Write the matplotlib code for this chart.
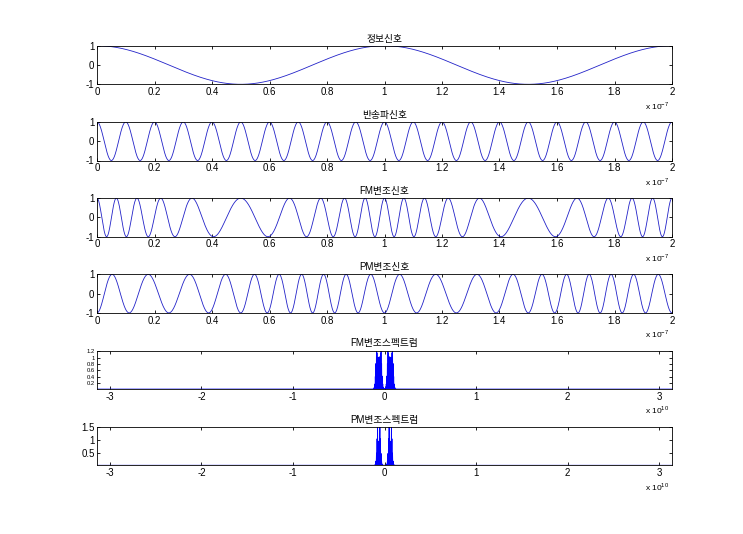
import numpy as np
import matplotlib
matplotlib.use('Agg')
import matplotlib.pyplot as plt

plt.rcParams['font.family'] = ['Liberation Sans', 'Noto Sans CJK KR', 'DejaVu Sans']
plt.rcParams['mathtext.fontset'] = 'custom'
plt.rcParams['mathtext.rm'] = 'Liberation Sans'

# ---- signal parameters ----
Ts = 1e-10          # sample interval (s)
t_end = 2e-7        # time span (s)
fm = 1e7            # message frequency (Hz)
fc = 1e8            # carrier frequency (Hz)
freq_dev = 5e7      # FM peak frequency deviation (Hz)
kp = np.pi          # PM phase sensitivity (rad)

titles = ['정보신호', '반송파신호', 'FM변조신호', 'PM변조신호',
          'FM변조스펙트럼', 'PM변조스펙트럼']
time_ticks = [0, 0.2, 0.4, 0.6, 0.8, 1.0, 1.2, 1.4, 1.6, 1.8, 2.0]   # x 1e-7 s
time_tick_labels = ['0', '0.2', '0.4', '0.6', '0.8', '1', '1.2', '1.4', '1.6', '1.8', '2']
sig_yticks = [-1, 0, 1]
freq_ticks = [-3, -2, -1, 0, 1, 2, 3]                                 # x 1e10 rad/s
freq_tick_labels = ['-3', '-2', '-1', '0', '1', '2', '3']
fm_spec_yticks = [0.2, 0.4, 0.6, 0.8, 1.0, 1.2]
fm_spec_ylabels = ['0.2', '0.4', '0.6', '0.8', '1', '1.2']
pm_spec_yticks = [0.5, 1.0, 1.5]
pm_spec_ylabels = ['0.5', '1', '1.5']

# ---- signals ----
t = np.arange(0, t_end + Ts / 2, Ts)
m = np.cos(2 * np.pi * fm * t)
c = np.cos(2 * np.pi * fc * t)
s_fm = np.cos(2 * np.pi * fc * t + (freq_dev / fm) * np.sin(2 * np.pi * fm * t))
s_pm = np.cos(2 * np.pi * fc * t + kp * m)

N = len(t)
w = np.linspace(-np.pi / Ts, np.pi / Ts, N)
S_fm = np.fft.fftshift(np.abs(np.fft.fft(s_fm))) * 2 * np.pi / N
S_pm = np.fft.fftshift(np.abs(np.fft.fft(s_pm))) * 2 * np.pi / N

# ---- figure ----
W, H = 743, 534
fig = plt.figure(figsize=(W / 100, H / 100), dpi=100)
fig.patch.set_facecolor('white')

left_px, right_px = 97, 672
top0, step, hgt = 45.7, 76.2, 38.6
time_color = '#2222c8'
spec_color = '#0000ff'
lw = 0.6
fs = 7

axes = []
for k in range(6):
    top = top0 + step * k
    ax = fig.add_axes([left_px / W, 1 - (top + hgt) / H,
                       (right_px - left_px) / W, hgt / H])
    axes.append(ax)
    for sp in ax.spines.values():
        sp.set_linewidth(0.6)
        sp.set_color('black')
    ax.tick_params(direction='in', length=2.5, width=0.6, top=True, right=True,
                   labelsize=fs, pad=2, colors='black')
    ax.set_title(titles[k], fontsize=fs, pad=3)

time_series = [m, c, s_fm, s_pm]
for k in range(4):
    ax = axes[k]
    ax.plot(t, time_series[k], color=time_color, lw=lw)
    ax.set_xlim(0, t_end)
    ax.set_ylim(-1, 1)
    ax.set_xticks(np.array(time_ticks) * 1e-7)
    ax.set_xticklabels(time_tick_labels)
    ax.set_yticks(sig_yticks)
    ax.set_yticklabels([str(v) for v in sig_yticks])
    ax.text(0.995, -0.55, r'x 10$^{-7}$', transform=ax.transAxes,
            ha='right', va='center', fontsize=6)

spec_series = [(S_fm, fm_spec_yticks, fm_spec_ylabels, 4.2),
               (S_pm, pm_spec_yticks, pm_spec_ylabels, fs)]
for j, (S, yt, yl, yfs) in enumerate(spec_series):
    ax = axes[4 + j]
    ax.plot(w, S, color=spec_color, lw=lw)
    ax.set_xlim(w[0], w[-1])
    ax.set_ylim(S.min(), S.max())
    ax.set_xticks(np.array(freq_ticks) * 1e10)
    ax.set_xticklabels(freq_tick_labels)
    ax.set_yticks(yt)
    ax.set_yticklabels(yl, fontsize=yfs)
    ax.tick_params(axis='y', pad=1.5)
    ax.text(0.995, -0.55, r'x 10$^{10}$', transform=ax.transAxes,
            ha='right', va='center', fontsize=6)

fig.savefig('out.png', dpi=100, facecolor='white')
